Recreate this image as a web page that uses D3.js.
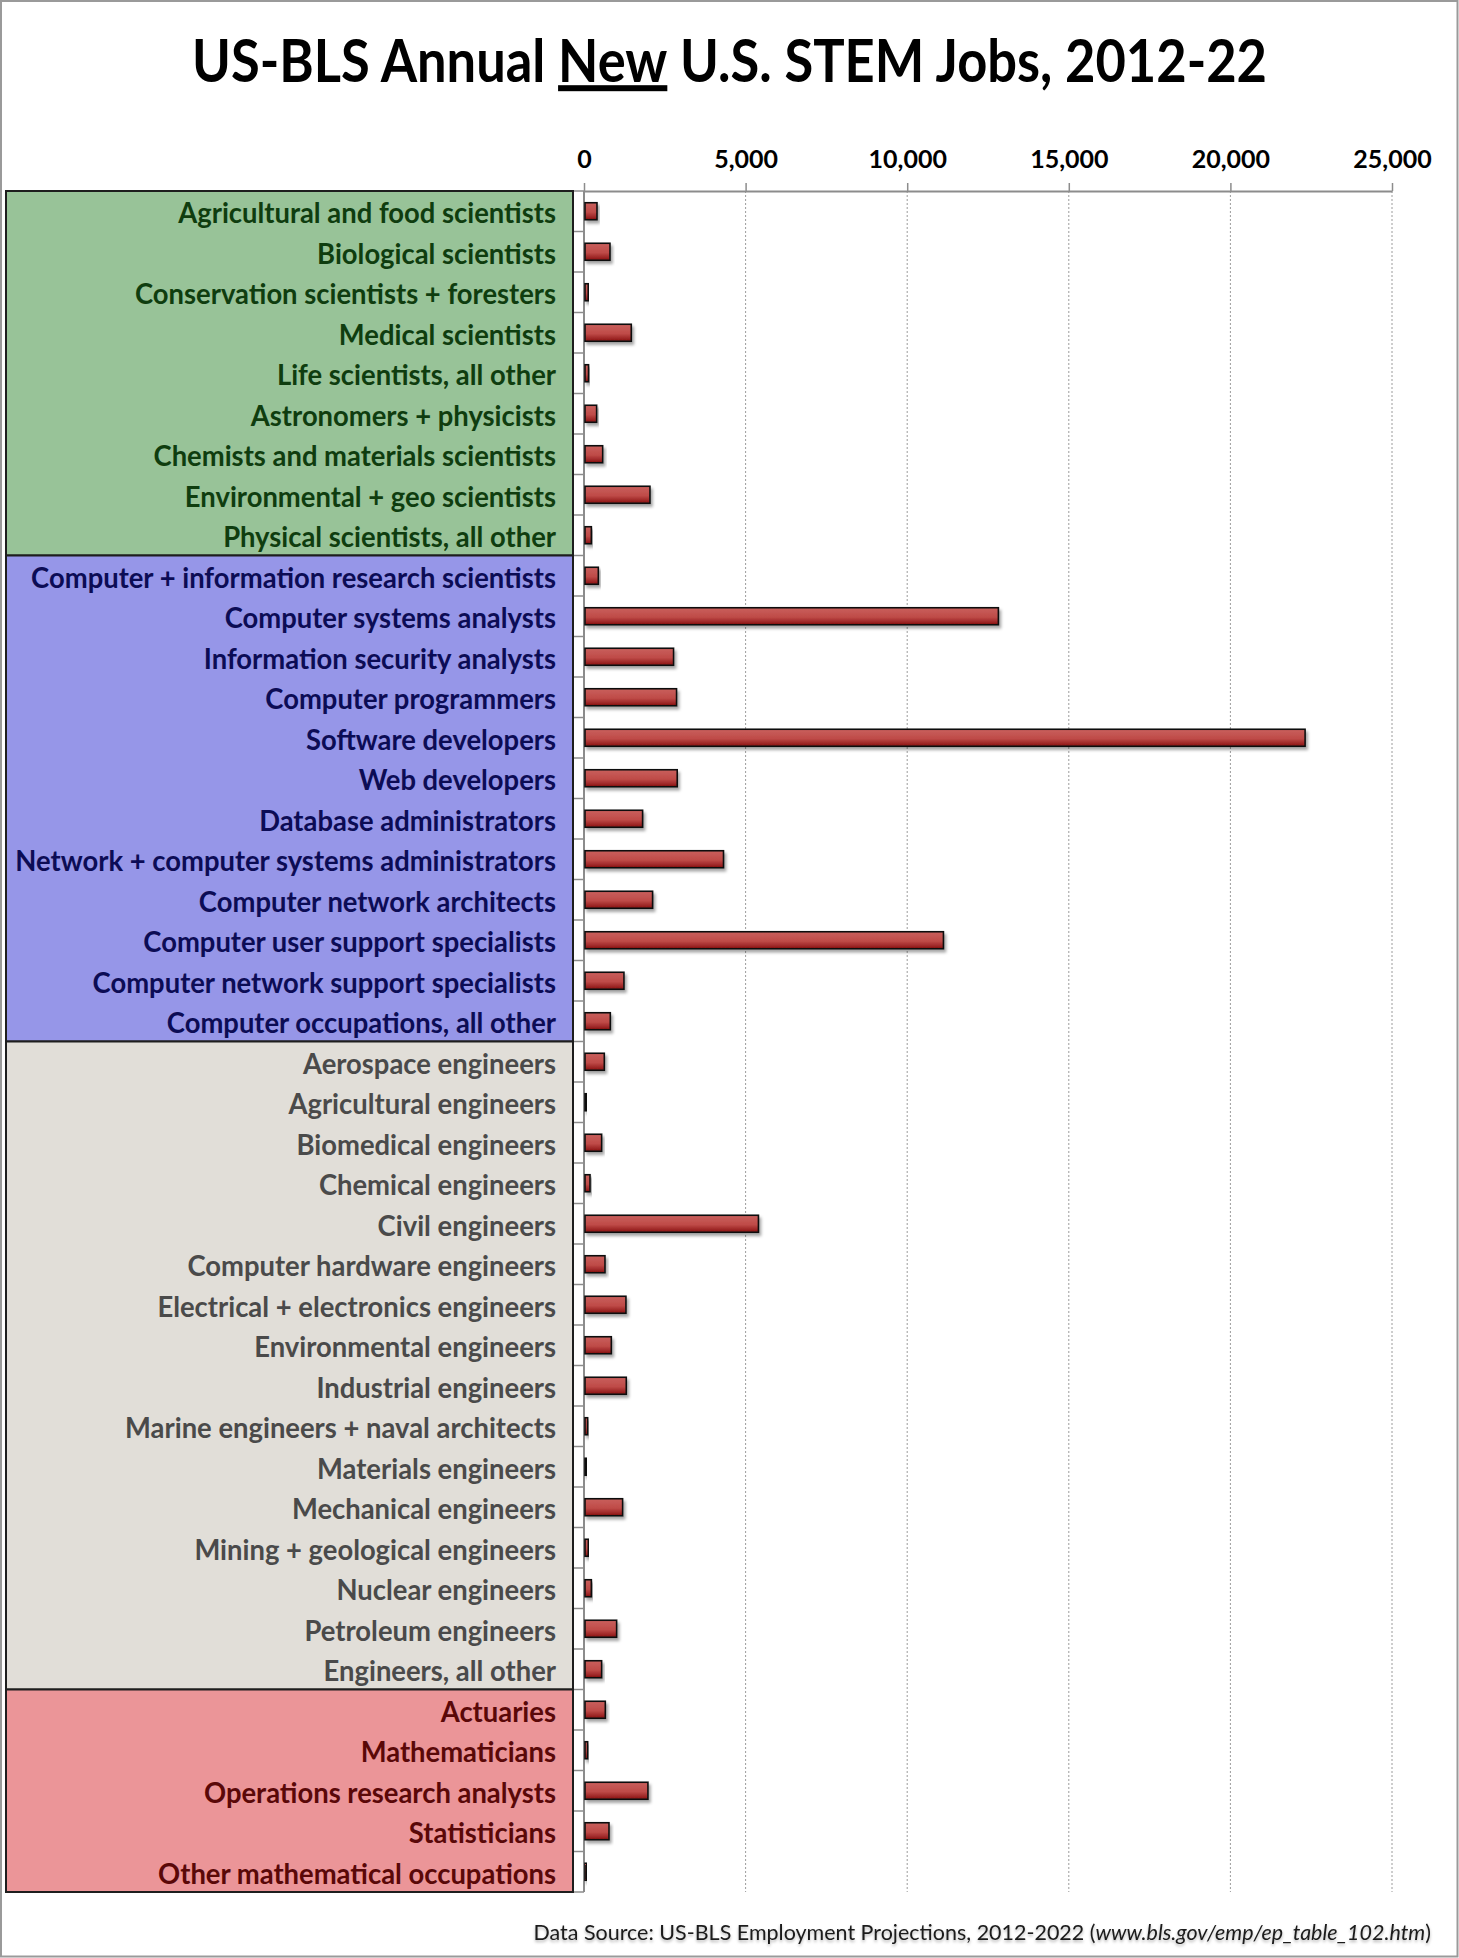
<!DOCTYPE html>
<html>
<head>
<meta charset="utf-8">
<script src="https://cdn.jsdelivr.net/npm/d3@7"></script>
<style>
    body { margin: 0; background: #fff; }
    text { font-family: Lato, "Open Sans", sans-serif; }
</style>
</head>
<body>
<script>
// categories by group, top to bottom
let scienceLabels = ["Agricultural and food scientists", "Biological scientists", "Conservation scientists + foresters",
    "Medical scientists", "Life scientists, all other", "Astronomers + physicists", "Chemists and materials scientists",
    "Environmental + geo scientists", "Physical scientists, all other"];
let computerLabels = ["Computer + information research scientists", "Computer systems analysts", "Information security analysts",
    "Computer programmers", "Software developers", "Web developers", "Database administrators",
    "Network + computer systems administrators", "Computer network architects", "Computer user support specialists",
    "Computer network support specialists", "Computer occupations, all other"];
let engineerLabels = ["Aerospace engineers", "Agricultural engineers", "Biomedical engineers", "Chemical engineers",
    "Civil engineers", "Computer hardware engineers", "Electrical + electronics engineers", "Environmental engineers",
    "Industrial engineers", "Marine engineers + naval architects", "Materials engineers", "Mechanical engineers",
    "Mining + geological engineers", "Nuclear engineers", "Petroleum engineers", "Engineers, all other"];
let mathLabels = ["Actuaries", "Mathematicians", "Operations research analysts", "Statisticians", "Other mathematical occupations"];

// annual new jobs
let scienceValues = [371, 773, 100, 1432, 110, 360, 547, 2010, 196];
let computerValues = [412, 12790, 2740, 2833, 22280, 2853, 1782, 4285, 2091, 11090, 1205, 783];
let engineerValues = [597, 40, 515, 155, 5366, 618, 1267, 814, 1277, 82, 41, 1164, 103, 196, 979, 515];
let mathValues = [628, 82, 1947, 742, 50];

let xTicks = [0, 5000, 10000, 15000, 20000, 25000];

let titleStart = "US-BLS Annual ";
let titleNew = "New";
let titleEnd = " U.S. STEM Jobs, 2012-22";
let sourceText = "Data Source: US-BLS Employment Projections, 2012-2022 (";
let sourceUrl = "www.bls.gov/emp/ep_table_102.htm";

let groups = [
    {labels: scienceLabels, values: scienceValues, fill: "#98c398", ink: "#0f3d0f"},
    {labels: computerLabels, values: computerValues, fill: "#9696e8", ink: "#0c0c55"},
    {labels: engineerLabels, values: engineerValues, fill: "#e1ded8", ink: "#4a4a4a"},
    {labels: mathLabels, values: mathValues, fill: "#eb9598", ink: "#5a0808"}
];

let svgWidth = 1459,
    svgHeight = 1958,
    plot = {left: 584, right: 1392, top: 191, bottom: 1892},
    labelRight = 556,
    boxLeft = 6,
    boxRight = 573;

let svg = d3.select("body").append("svg")
    .attr("width", svgWidth)
    .attr("height", svgHeight);

let defs = svg.append("defs");
let grad = defs.append("linearGradient").attr("id", "barGrad")
    .attr("x1", 0).attr("y1", 0).attr("x2", 0).attr("y2", 1);
grad.append("stop").attr("offset", "0%").attr("stop-color", "#c9605d");
grad.append("stop").attr("offset", "55%").attr("stop-color", "#bf4b48");
grad.append("stop").attr("offset", "100%").attr("stop-color", "#8a1212");

let shadow = defs.append("filter").attr("id", "shadow")
    .attr("x", "-10%").attr("y", "-30%").attr("width", "130%").attr("height", "180%");
shadow.append("feDropShadow").attr("dx", 2).attr("dy", 3).attr("stdDeviation", 1.8)
    .attr("flood-color", "#000").attr("flood-opacity", 0.35);

let textShadow = defs.append("filter").attr("id", "textShadow")
    .attr("x", "-5%").attr("y", "-30%").attr("width", "110%").attr("height", "180%");
textShadow.append("feDropShadow").attr("dx", 0).attr("dy", 2).attr("stdDeviation", 1.5)
    .attr("flood-color", "#000").attr("flood-opacity", 0.3);

// outer frame
svg.append("rect")
    .attr("x", 1).attr("y", 1)
    .attr("width", svgWidth - 2.5).attr("height", svgHeight - 2.5)
    .attr("fill", "#fff")
    .attr("stroke", "#9a9a9a")
    .attr("stroke-width", 2);

let allLabels = [];
let rows = [];
groups.forEach((g, gi) => {
    g.labels.forEach((label, i) => {
        allLabels.push(label);
        rows.push({label: label, value: g.values[i], group: gi});
    });
});

let x = d3.scaleLinear().domain([0, 25000]).range([plot.left, plot.right]);
let y = d3.scaleBand().domain(allLabels).range([plot.top, plot.bottom])
    .paddingInner(0.58).paddingOuter(0.29);
let step = y.step();
let bw = y.bandwidth();
let half = (step - bw) / 2;

// squeeze text horizontally so it takes about the width it has in the reference
function fitWidth(sel, target) {
    let w = sel.node().getComputedTextLength();
    return w > target ? target / w : 1;
}

// title
let title = svg.append("text")
    .attr("text-anchor", "middle")
    .style("font-size", "60px")
    .style("font-weight", "bold")
    .attr("fill", "#000");
title.append("tspan").text(titleStart);
title.append("tspan").text(titleNew).style("text-decoration", "underline");
title.append("tspan").text(titleEnd);
let titleScale = fitWidth(title, 1074);
title.attr("transform", "translate(" + (svgWidth / 2) + ",82) scale(" + titleScale + ",1)");

// group boxes
groups.forEach(g => {
    let y0 = y(g.labels[0]) - half;
    let y1 = y(g.labels[g.labels.length - 1]) + bw + half;
    svg.append("rect")
        .attr("x", boxLeft)
        .attr("y", y0)
        .attr("width", boxRight - boxLeft)
        .attr("height", y1 - y0)
        .attr("fill", g.fill)
        .attr("stroke", "#1e1e1e")
        .attr("stroke-width", 2);
});

// category labels
let labels = svg.append("g").selectAll("text")
    .data(rows)
    .enter().append("text")
    .attr("text-anchor", "end")
    .attr("dy", "0.42em")
    .style("font-size", "28px")
    .style("font-weight", "bold")
    .attr("fill", d => groups[d.group].ink)
    .text(d => d.label);

let widest = d3.max(labels.nodes(), n => n.getComputedTextLength());
let labelScale = Math.min(1, 541 / widest);
labels.attr("transform", d => "translate(" + labelRight + "," + (y(d.label) + bw / 2) + ") scale(" + labelScale + ",1)");

// grid lines
svg.append("g").selectAll("line")
    .data(xTicks.filter(t => t > 0))
    .enter().append("line")
    .attr("x1", d => x(d)).attr("x2", d => x(d))
    .attr("y1", plot.top).attr("y2", plot.bottom)
    .attr("stroke", "#9c9c9c")
    .attr("stroke-width", 1)
    .attr("stroke-dasharray", "2,2");

// category ticks at band edges
let edges = d3.range(allLabels.length + 1).map(i => plot.top + i * step);
svg.append("g").selectAll("line")
    .data(edges)
    .enter().append("line")
    .attr("x1", plot.left - 10).attr("x2", plot.left)
    .attr("y1", d => d).attr("y2", d => d)
    .attr("stroke", "#8c8c8c")
    .attr("stroke-width", 1.5);

// value axis on top
let xAxis = d3.axisTop(x)
    .tickValues(xTicks)
    .tickSize(8)
    .tickSizeOuter(0)
    .tickPadding(15)
    .tickFormat(d3.format(","));

let axisG = svg.append("g")
    .attr("transform", "translate(0," + plot.top + ")")
    .call(xAxis);
axisG.select(".domain").attr("stroke", "#8c8c8c").attr("stroke-width", 2);
axisG.selectAll(".tick line").attr("stroke", "#8c8c8c").attr("stroke-width", 1.5);
axisG.selectAll(".tick text")
    .style("font-family", "Lato, 'Open Sans', sans-serif")
    .style("font-size", "25px")
    .style("font-weight", "bold")
    .attr("fill", "#000");

svg.append("line")
    .attr("x1", plot.left).attr("x2", plot.left)
    .attr("y1", plot.top).attr("y2", plot.bottom)
    .attr("stroke", "#8c8c8c")
    .attr("stroke-width", 2);

// bars
svg.append("g").selectAll("rect")
    .data(rows)
    .enter().append("rect")
    .attr("x", x(0) + 1)
    .attr("y", d => y(d.label))
    .attr("width", d => Math.max(1, x(d.value) - x(0)))
    .attr("height", bw)
    .attr("fill", "url(#barGrad)")
    .attr("stroke", "#111")
    .attr("stroke-width", 1.6)
    .attr("filter", "url(#shadow)");

// source note
let source = svg.append("text")
    .attr("text-anchor", "end")
    .style("font-size", "22px")
    .attr("fill", "#1a1a1a")
    .attr("filter", "url(#textShadow)");
source.append("tspan").text(sourceText);
source.append("tspan").text(sourceUrl).style("font-style", "italic");
source.append("tspan").text(")");
let sourceScale = fitWidth(source, 898);
source.attr("transform", "translate(1431,1940) scale(" + sourceScale + ",1)");
</script>
</body>
</html>
